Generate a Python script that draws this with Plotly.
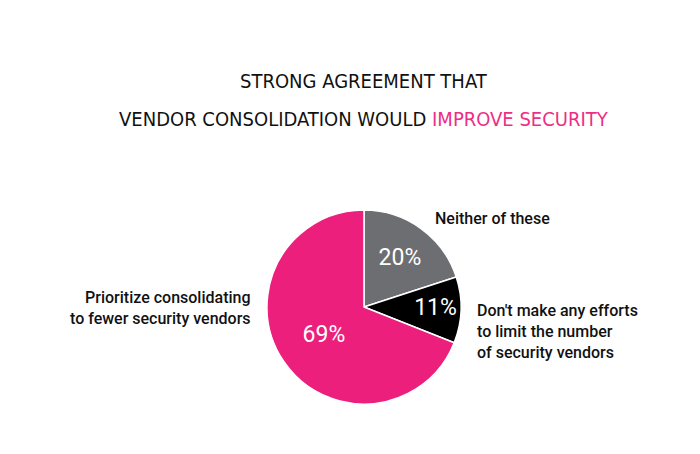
import plotly.graph_objects as go

labels = ["Neither of these", "Don't make any efforts to limit the number of security vendors",
          "Prioritize consolidating to fewer security vendors"]
values = [20, 11, 69]
colors = ["#6d6e71", "#000000", "#ec1f7d"]

title_line1 = "STRONG AGREEMENT THAT"
title_line2 = "VENDOR CONSOLIDATION WOULD "
title_pink = "IMPROVE SECURITY"

W, H = 700, 454
OFF = 8  # page body margin shifts the figure by 8px


def px(x):
    return (x - OFF) / W


def py(y):
    return 1 - (y - OFF) / H


fig = go.Figure()
fig.add_trace(go.Pie(
    labels=labels, values=values, sort=False, direction="clockwise", rotation=0,
    marker=dict(colors=colors, line=dict(color="white", width=1.5)),
    texttemplate="%{value}%", textposition="inside",
    insidetextorientation="horizontal",
    textfont=dict(family="Roboto", size=23, color="white", weight=400),
    domain=dict(x=[px(267), px(461)], y=[py(404), py(210)]),
    showlegend=False, hoverinfo="label+percent",
))

title_font = dict(family="DejaVu Sans Condensed", size=20, color="#111111")
fig.add_annotation(text=title_line1, x=px(364), y=py(81), xref="paper", yref="paper",
                   showarrow=False, xanchor="center", yanchor="middle", font=title_font)
fig.add_annotation(text=title_line2 + f"<span style='color:#ee2e85'>{title_pink}</span>",
                   x=px(364), y=py(119), xref="paper", yref="paper",
                   showarrow=False, xanchor="center", yanchor="middle", font=title_font)

lab_font = dict(family="Roboto", size=16, color="#111111", weight=500)
fig.add_annotation(text="Neither of these", x=px(433), y=py(219), xref="paper", yref="paper",
                   showarrow=False, xanchor="left", yanchor="middle", font=lab_font)
fig.add_annotation(text="Don't make any efforts<br>to limit the number<br>of security vendors",
                   x=px(475), y=py(331), xref="paper", yref="paper",
                   showarrow=False, xanchor="left", yanchor="middle", align="left", font=lab_font)
fig.add_annotation(text="Prioritize consolidating<br>to fewer security vendors",
                   x=px(253), y=py(308), xref="paper", yref="paper",
                   showarrow=False, xanchor="right", yanchor="middle", align="right", font=lab_font)

fig.update_layout(width=W, height=H, margin=dict(l=0, r=0, t=0, b=0),
                  paper_bgcolor="white", plot_bgcolor="white")
fig.write_html("out.html")
